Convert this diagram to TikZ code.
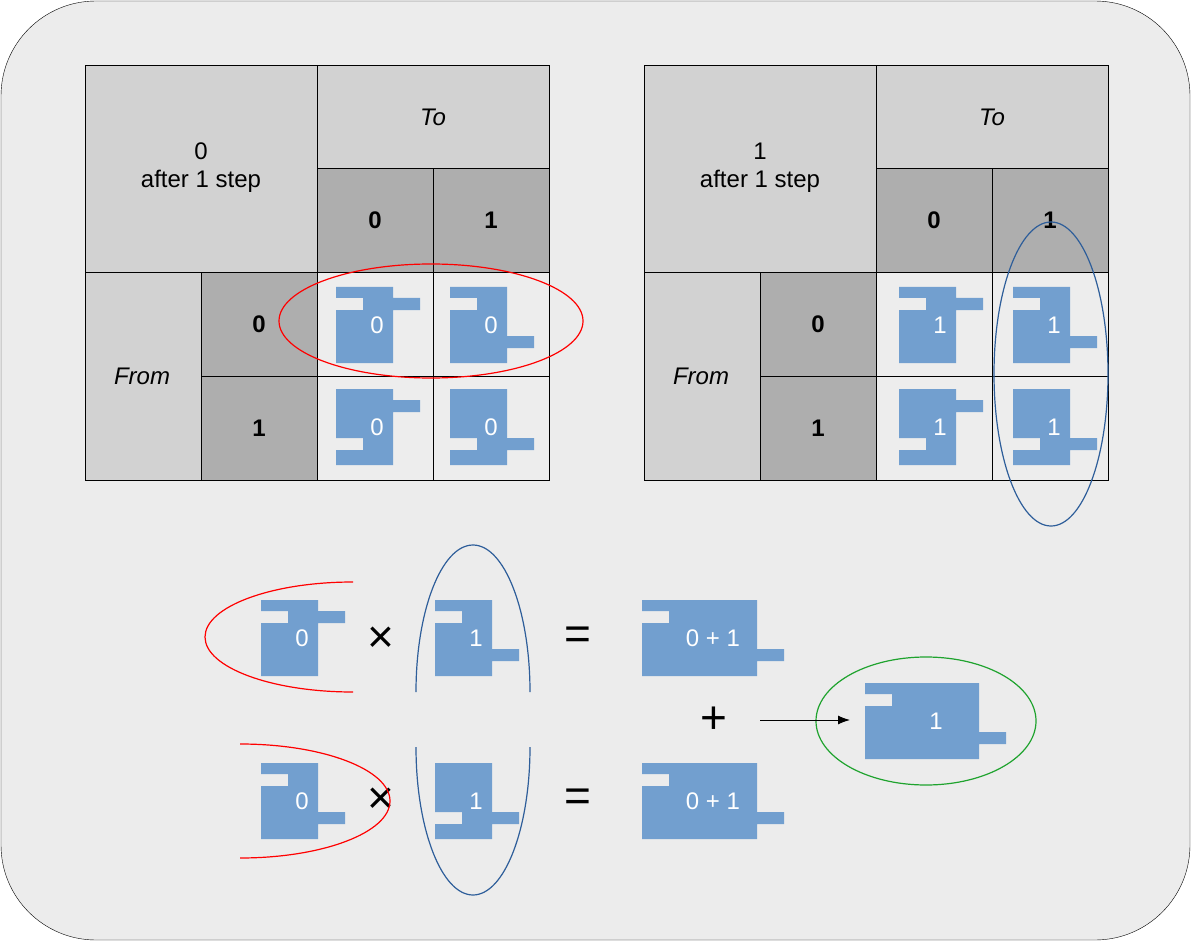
\documentclass[tikz,border=0pt]{standalone}
\usepackage{fontspec}
\setmainfont{Liberation Sans}
\usetikzlibrary{arrows.meta}
\begin{document}
\begin{tikzpicture}[x=1pt,y=-1pt,
  lt/.style={draw=black,fill=lightg},
  dk/.style={draw=black,fill=darkg},
  dc/.style={draw=black,fill=cellg},
  lab/.style={font=\fontsize{24}{28}\selectfont,text=white},
  hd/.style={font=\fontsize{24}{28}\selectfont},
  hdb/.style={font=\fontsize{24}{28}\selectfont\bfseries},
  hdi/.style={font=\fontsize{24}{28}\selectfont\itshape},
  sym/.style={font=\fontsize{46}{46}\selectfont},
  every node/.style={inner sep=0pt}]
\definecolor{lightg}{HTML}{D2D2D2}
\definecolor{darkg}{HTML}{AEAEAE}
\definecolor{cellg}{HTML}{EDEDED}
\definecolor{blk}{HTML}{729FCF}
\definecolor{bgc}{HTML}{ECECEC}
\definecolor{myblue}{HTML}{2E5E9A}
\definecolor{mygreen}{HTML}{1FA32E}
\useasboundingbox (0,0) rectangle (1191,941);
\draw[fill=bgc,rounded corners=95pt] (1,1) rectangle (1190,940);
\newcommand\blkshape[8]{%
  \begin{scope}[shift={(#1,#2)}]
  \fill[blk] (0,0) -- (#3,0) -- (#3,{11+38*#5}) -- ({#3+27},{11+38*#5}) -- ({#3+27},{23+38*#5}) -- (#3,{23+38*#5}) -- (#3,76) -- (0,76) -- (0,{61-38*(1-#4)}) -- (27,{61-38*(1-#4)}) -- (27,{49-38*(1-#4)}) -- (0,{49-38*(1-#4)}) -- cycle;
  \node[lab] (#7) at (#8,38) {#6};
  \end{scope}}
\foreach \dx/\v/\nm in {0/0/L,559/1/R}{
  \begin{scope}[xshift=\dx]
  \draw[lt] (85,65) rectangle (317,272);
  \node[hd,align=center] (\nm t) at (201,168) {\v\\after 1 step};
  \draw[lt] (317,65) rectangle (549,168);
  \node[hdi] (\nm to) at (433,117) {To};
  \draw[dk] (317,168) rectangle (433,272); \node[hdb] (\nm c0) at (375,220) {0};
  \draw[dk] (433,168) rectangle (549,272); \node[hdb] (\nm c1) at (491,220) {1};
  \draw[lt] (85,272) rectangle (201,480);
  \node[hdi] (\nm fr) at (142,376) {From};
  \draw[dk] (201,272) rectangle (317,376); \node[hdb] (\nm r0) at (259,324) {0};
  \draw[dk] (201,376) rectangle (317,480); \node[hdb] (\nm r1) at (259,428) {1};
  \draw[dc] (317,272) rectangle (433,376);
  \draw[dc] (433,272) rectangle (549,376);
  \draw[dc] (317,376) rectangle (433,480);
  \draw[dc] (433,376) rectangle (549,480);
  \end{scope}}
\blkshape{336}{287}{57}{0}{0}{0}{l00}{41}
\blkshape{450}{287}{57}{0}{1}{0}{l01}{41}
\blkshape{336}{389}{57}{1}{0}{0}{l10}{41}
\blkshape{450}{389}{57}{1}{1}{0}{l11}{41}
\blkshape{899}{287}{57}{0}{0}{1}{r00}{41}
\blkshape{1013}{287}{57}{0}{1}{1}{r01}{41}
\blkshape{899}{389}{57}{1}{0}{1}{r10}{41}
\blkshape{1013}{389}{57}{1}{1}{1}{r11}{41}
\draw[red,line width=1.2pt] (431,321) ellipse [x radius=152, y radius=57];
\draw[myblue,line width=1.2pt] (1051,374) ellipse [x radius=57, y radius=152];
\blkshape{261}{600}{57}{0}{0}{0}{a1}{41}
\blkshape{435}{600}{57}{0}{1}{1}{b1}{41}
\blkshape{642}{600}{115}{0}{1}{0 + 1}{c1}{71}
\blkshape{261}{763}{57}{0}{1}{0}{a2}{41}
\blkshape{435}{763}{57}{1}{1}{1}{b2}{41}
\blkshape{642}{763}{115}{0}{1}{0 + 1}{c2}{71}
\blkshape{865}{683}{114}{0}{1}{1}{res}{71}
\node[sym] (x1) at (381,640) {×};
\node[sym] (x2) at (381,801) {×};
\node[sym] (e1) at (578,638) {=};
\node[sym] (e2) at (578,800) {=};
\node[sym] (pl) at (714,720) {+};
\draw[red,line width=1.2pt] (353,582) arc[start angle=-90,end angle=-270,x radius=148,y radius=55];
\draw[red,line width=1.2pt] (240,744) arc[start angle=-90,end angle=90,x radius=150,y radius=57];
\draw[myblue,line width=1.2pt] (416,692) arc[start angle=180,end angle=360,x radius=57,y radius=147];
\draw[myblue,line width=1.2pt] (416,747) arc[start angle=180,end angle=0,x radius=57,y radius=148];
\draw[mygreen,line width=1.2pt] (926,721) ellipse [x radius=110, y radius=64];
\coordinate (as) at (760,720);
\draw[-{Latex[length=12pt,width=9pt]},line width=1pt] (as) -- (850,720);
\end{tikzpicture}
\end{document}
